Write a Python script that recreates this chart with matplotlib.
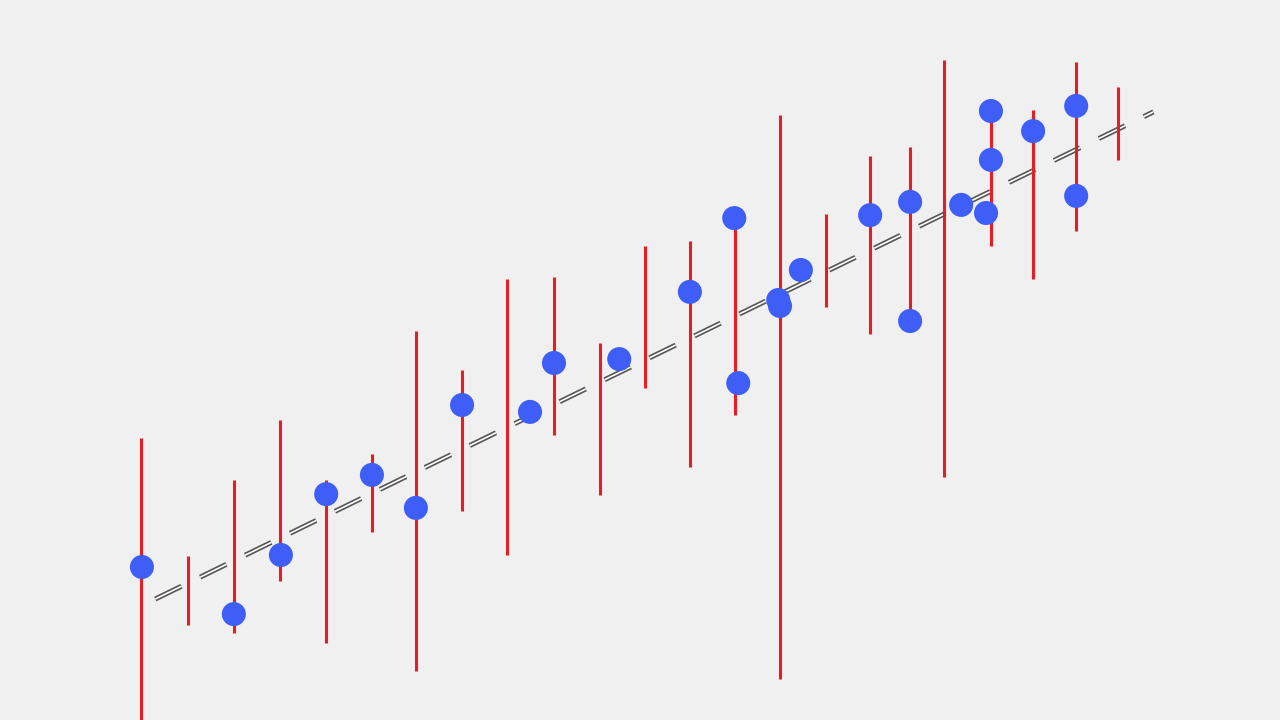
import numpy as np
import matplotlib.pyplot as plt

# error bar ranges (x position, lower end, upper end)
bar_x = [0.0, 1.06, 2.09, 3.13, 4.17, 5.2, 6.19, 7.23, 8.24, 9.3, 10.34, 11.35,
         12.36, 13.38, 14.39, 15.43, 16.42, 17.32, 18.09, 19.14, 20.09, 21.06, 22.0]
bar_lo = [-0.5, 3.17, 2.9, 4.63, 2.57, 6.27, 1.63, 6.97, 5.5, 9.5, 7.5, 11.07,
          8.43, 10.17, 1.37, 13.77, 12.87, 13.3, 8.1, 15.8, 14.7, 16.3, 18.67]
bar_hi = [9.4, 5.47, 8.0, 10.0, 8.0, 8.87, 12.97, 11.67, 14.7, 14.77, 12.57, 15.8,
          15.97, 16.73, 20.17, 16.87, 18.8, 19.1, 22.0, 20.27, 20.33, 21.93, 21.1]

# observed points
pt_x = [0.02, 2.09, 3.15, 4.17, 5.2, 6.19, 7.23, 8.76, 9.3, 10.77, 12.36, 13.36,
        13.45, 14.35, 14.39, 14.86, 16.42, 17.32, 17.32, 18.47, 19.03, 19.14,
        19.14, 20.09, 21.06, 21.06]
pt_y = [5.1, 3.53, 5.5, 7.53, 8.17, 7.07, 10.5, 10.27, 11.9, 12.03, 14.27, 16.73,
        11.23, 14.0, 13.8, 15.0, 16.83, 17.27, 13.3, 17.17, 16.9, 20.3,
        18.67, 19.63, 20.47, 17.47]

# fitted trend
trend_slope = 0.7224
trend_intercept = 3.80
trend_x = [0.32, 22.8]

plt.rcParams['lines.scale_dashes'] = False

fig = plt.figure(figsize=(12.8, 7.2), dpi=100, facecolor='#f0f0f0')
ax = fig.add_axes([0, 0, 1, 1])
ax.set_facecolor('#f0f0f0')

ax.vlines(bar_x, bar_lo, bar_hi, colors='#e81c24', linewidth=2.2, zorder=2)

tx = np.array(trend_x)
ty = trend_intercept + trend_slope * tx
ax.plot(tx, ty, color='#555555', linewidth=3.6, dashes=(21, 15),
        dash_capstyle='butt', zorder=1)
ax.plot(tx, ty, color='white', linewidth=1.2, dashes=(21, 15),
        dash_capstyle='butt', zorder=1)

ax.scatter(pt_x, pt_y, s=300, color='#3f5ef8', edgecolors='none', zorder=3)

ax.set_xlim(-3.176, 25.65)
ax.set_ylim(0, 24)
ax.axis('off')

fig.savefig('out.png', dpi=100, facecolor=fig.get_facecolor())
